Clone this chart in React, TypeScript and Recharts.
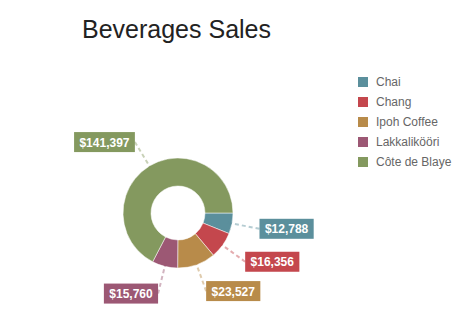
import React from 'react';
import { PieChart, Pie, Cell, Legend } from 'recharts';

const products = ['Chai', 'Chang', 'Ipoh Coffee', 'Lakkalikööri', 'Côte de Blaye'];
const sales = [12788, 16356, 23527, 15760, 141397];
const colors = ['#5b8f9c', '#c4474d', '#b88b4a', '#9c5874', '#84995f'];

const data = products.map((name, i) => ({ name, value: sales[i] }));

const RAD = Math.PI / 180;
const fmt = (v: number) => '$' + v.toLocaleString('en-US');

function SliceLabel(props: any) {
  const { cx, cy, midAngle, outerRadius, value, index } = props;
  const cos = Math.cos(-midAngle * RAD);
  const sin = Math.sin(-midAngle * RAD);
  const r0 = outerRadius - 4;
  const r1 = outerRadius + 28;
  const sx = cx + r0 * cos;
  const sy = cy + r0 * sin;
  const ex = cx + r1 * cos;
  const ey = cy + r1 * sin;
  const text = fmt(value);
  const w = text.length * 6.6 + 8;
  const h = 20;
  const bx = cos >= 0 ? ex : ex - w;
  return (
    <g>
      <line x1={sx} y1={sy} x2={ex} y2={ey} stroke={colors[index]} strokeOpacity={0.45}
        strokeWidth={2} strokeDasharray="4 3" />
      <rect x={bx} y={ey - h / 2} width={w} height={h} fill={colors[index]} />
      <text x={bx + w / 2} y={ey + 4.5} textAnchor="middle" fill="#fff"
        fontSize={12} fontWeight="bold" fontFamily="Liberation Sans, Arial, sans-serif">
        {text}
      </text>
    </g>
  );
}

function LegendList() {
  return (
    <div style={{ fontFamily: 'Liberation Sans, Arial, sans-serif', fontSize: 12, color: '#666' }}>
      {products.map((p, i) => (
        <div key={p} style={{ height: 20, lineHeight: '20px', display: 'flex', alignItems: 'center' }}>
          <span style={{ width: 10, height: 10, background: colors[i], display: 'inline-block', marginRight: 8 }} />
          <span>{p}</span>
        </div>
      ))}
    </div>
  );
}

export default function App() {
  return (
    <div style={{ position: 'absolute', left: 0, top: 0, width: 474, height: 328, background: '#fff' }}>
      <div style={{
        position: 'absolute', left: 82, top: 17, fontSize: 25, lineHeight: 1,
        fontFamily: 'Liberation Sans, Arial, sans-serif', color: '#222'
      }}>
        Beverages Sales
      </div>
      <PieChart width={474} height={328} margin={{ top: 0, right: 0, bottom: 0, left: 0 }}>
        <Pie
          data={data}
          dataKey="value"
          nameKey="name"
          cx={178}
          cy={213}
          innerRadius={27}
          outerRadius={55}
          startAngle={0}
          endAngle={-360}
          stroke="#fff"
          strokeWidth={0.5}
          label={SliceLabel}
          labelLine={false}
          isAnimationActive={false}
        >
          {data.map((d, i) => <Cell key={d.name} fill={colors[i]} />)}
        </Pie>
        <Legend
          layout="vertical"
          align="right"
          verticalAlign="top"
          content={() => <LegendList />}
          wrapperStyle={{ position: 'absolute', left: 358, top: 72, width: 110 }}
        />
      </PieChart>
    </div>
  );
}
